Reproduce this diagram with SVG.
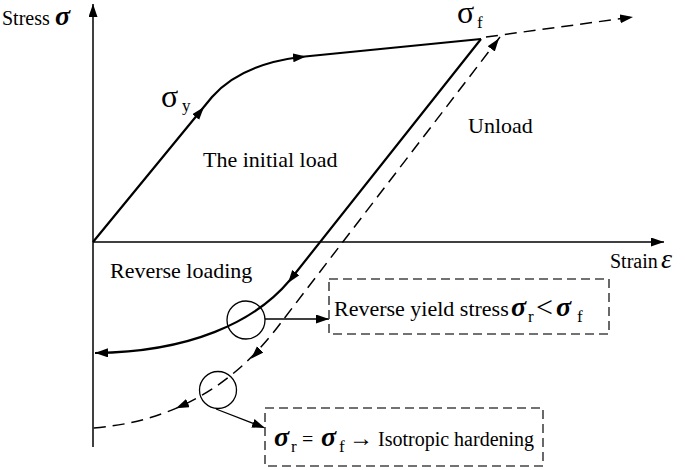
<svg xmlns="http://www.w3.org/2000/svg" width="685" height="470" viewBox="0 0 685 470" font-family="'Liberation Serif', 'DejaVu Serif', serif">
<style>
text{fill:#000}
.t22{font-size:22px}
.t20{font-size:20px}
.sub{font-size:17px}
.gi{font-style:italic;font-weight:bold;font-size:28px}
.g{font-size:32px}
.ax{stroke:#000;stroke-width:1.5;fill:none}
.cv{stroke:#000;stroke-width:2.2;fill:none}
.dl{stroke:#000;stroke-width:1.5;fill:none;stroke-dasharray:12 7}
.th{stroke:#000;stroke-width:1.3;fill:none}
.stub{stroke:none;fill:none}
.box{stroke:#444;stroke-width:1.6;fill:none;stroke-dasharray:9 5}
</style>
<defs>
<marker id="ah" markerUnits="userSpaceOnUse" markerWidth="14" markerHeight="10" refX="13" refY="4.5" orient="auto" viewBox="0 0 14 10">
<path d="M0,0 L13,4.5 L0,9 z" fill="#000" stroke="none"/>
</marker>
</defs>
<g id="connectors">
<path id="y-axis" class="ax" d="M93,447 L93,4" marker-end="url(#ah)"/>
<path id="x-axis" class="ax" d="M93,242 L664,242" marker-end="url(#ah)"/>
<path id="initial-load" class="cv" d="M93,242 L212,97 C232,74 262,62 300,57 L481,39"/>
<path class="stub" d="M202,109.4 L204,107" marker-end="url(#ah)"/>
<path class="stub" d="M304,56.7 L306,56.5" marker-end="url(#ah)"/>
<path id="unload-reverse" class="cv" d="M481,39 L290,280 C255,322 190,352 95,353" marker-end="url(#ah)"/>
<path class="stub" d="M289.2,281.4 L288,283" marker-end="url(#ah)"/>
<path id="dashed-reverse" class="dl" d="M500,37 L283,320 C255,358 200,420 93,428"/>
<path class="stub" d="M497.8,40.1 L499,38.5" marker-end="url(#ah)"/>
<path class="stub" d="M252.4,357.3 L251,358.7" marker-end="url(#ah)"/>
<path class="stub" d="M177.8,407.5 L176,408.3" marker-end="url(#ah)"/>
<path id="dashed-ext" class="dl" d="M486,37 L633,17" marker-end="url(#ah)"/>
<path class="th" d="M265,319 L329,319" marker-end="url(#ah)"/>
<path class="th" d="M216,409 L265,428" marker-end="url(#ah)"/>
</g>
<g id="circle1"><circle class="th" cx="246" cy="320" r="19"/></g>
<g id="circle2"><circle class="th" cx="218" cy="390" r="18.5"/></g>
<g id="label-stress"><text x="2" y="25" class="t20">Stress</text><text x="55" y="25" class="gi">σ</text></g>
<g id="label-strain"><text x="610" y="268" class="t20">Strain</text><text x="661" y="268" font-size="28" font-style="italic">ε</text></g>
<g id="label-sy"><text x="161" y="107" class="g">σ</text><text x="182" y="111" class="sub">y</text></g>
<g id="label-sf"><text x="457" y="23" class="g">σ</text><text x="477" y="28" class="sub">f</text></g>
<g id="label-initial"><text x="203" y="167" class="t22">The initial load</text></g>
<g id="label-unload"><text x="468" y="133" class="t22">Unload</text></g>
<g id="label-reverse"><text x="110" y="278" class="t22">Reverse loading</text></g>
<g id="box1">
<rect class="box" x="329" y="279" width="280" height="55"/>
<text x="334" y="316" class="t22">Reverse yield stress</text>
<text x="511" y="316" class="gi">σ</text>
<text x="528" y="322" class="sub">r</text>
<text x="536" y="317" font-size="30">&lt;</text>
<text x="556" y="316" class="gi">σ</text>
<text x="577" y="322" class="sub">f</text>
</g>
<g id="box2">
<rect class="box" x="265" y="408" width="278" height="58"/>
<text x="274" y="446" class="gi">σ</text>
<text x="291" y="452" class="sub">r</text>
<text x="302" y="446" class="t20">=</text>
<text x="321" y="446" class="gi">σ</text>
<text x="339" y="452" class="sub">f</text>
<text x="349" y="446" font-size="24">→</text>
<text x="378" y="446" class="t20">Isotropic hardening</text>
</g>
</svg>
